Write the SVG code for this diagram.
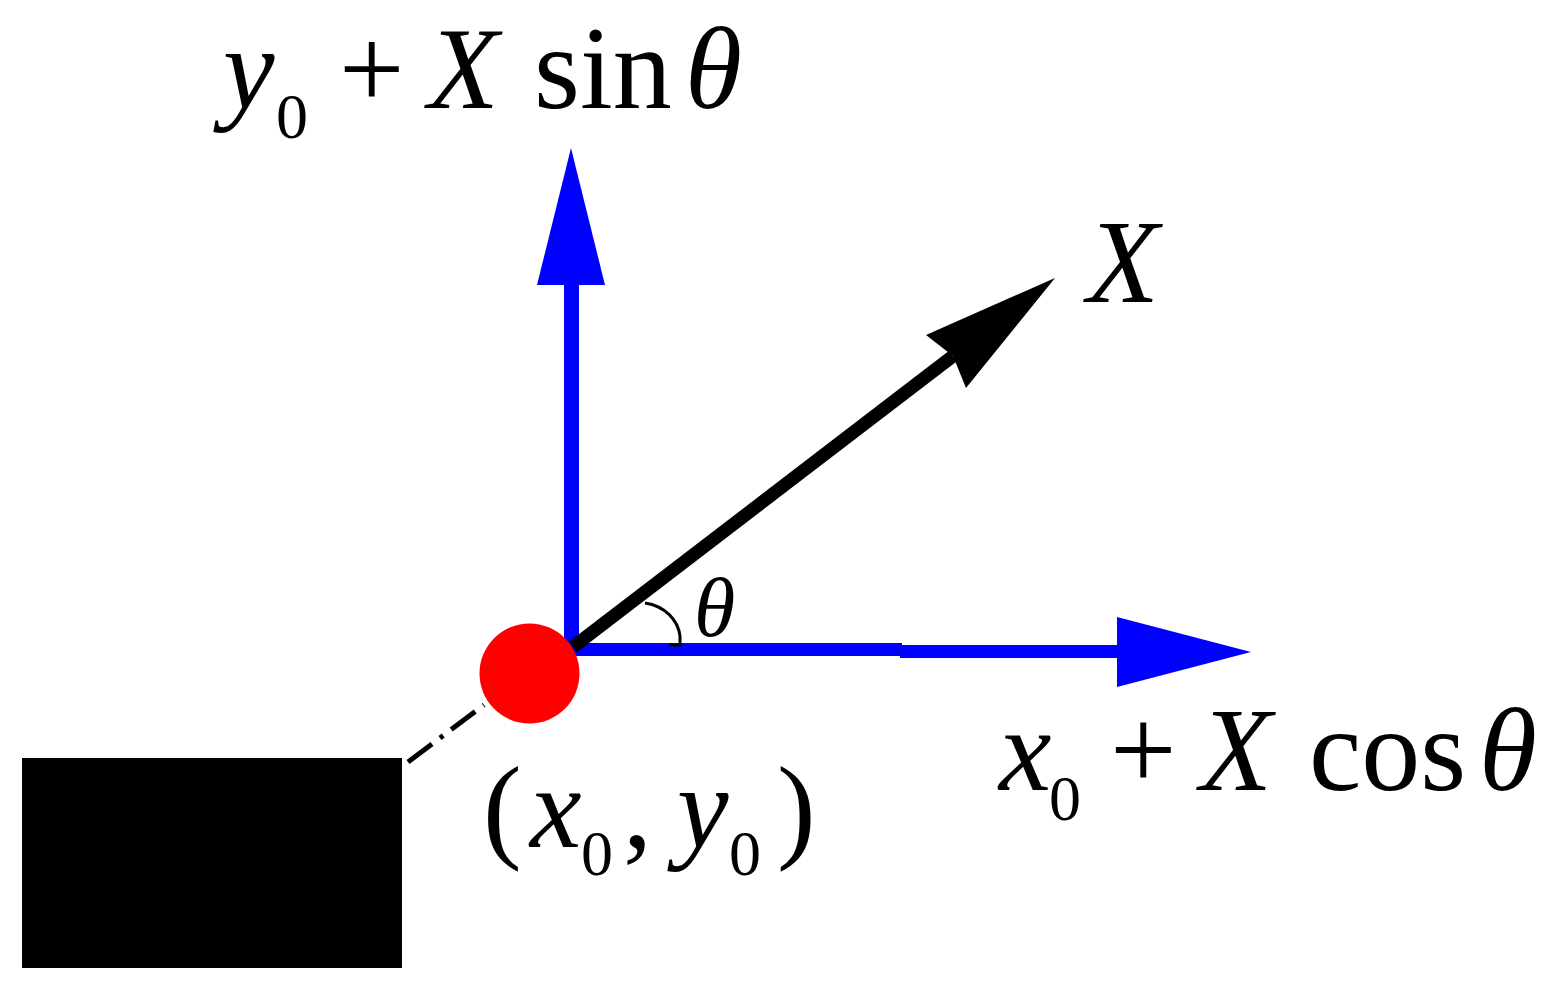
<svg xmlns="http://www.w3.org/2000/svg" width="1568" height="994" viewBox="0 0 1568 994">
<style>
.t{font-family:"Liberation Serif","Times New Roman",serif;fill:#000}
.i{font-style:italic}
.blue{fill:#0000ff}
</style>
<rect width="1568" height="994" fill="#fff"/>
<g id="block"><rect x="22" y="758" width="380" height="210" fill="#000"/></g>
<g id="connectors">
<line x1="408" y1="762" x2="484" y2="705" stroke="#000" stroke-width="5" stroke-dasharray="30 10 4 10"/>
<g id="axis-y">
<rect class="blue" x="564" y="284" width="15" height="368"/>
<polygon class="blue" points="571,148 605,285 537,285"/>
</g>
<g id="axis-x">
<rect class="blue" x="572" y="643" width="330" height="13"/>
<rect class="blue" x="900" y="645" width="218" height="13"/>
<polygon class="blue" points="1117,617 1251,652 1117,687"/>
</g>
</g>
<g id="origin"><circle cx="529.5" cy="673.5" r="50" fill="#ff0000"/></g>
<g id="vector-X">
<line x1="573" y1="647" x2="953" y2="356" stroke="#000" stroke-width="13"/>
<polygon points="1055,278 966,388 953,356 926,335" fill="#000"/>
</g>
<g id="angle">
<path d="M645,603 C665,606 678,620 680,636 L680,645 L669,645" fill="none" stroke="#000" stroke-width="3"/>
<text class="t i" x="694" y="636" font-size="84">θ</text>
</g>
<g id="label-y">
<text class="t i" x="223" y="108" font-size="116">y</text>
<text class="t" x="276" y="138" font-size="64">0</text>
<text class="t" x="339" y="108" font-size="116">+</text>
<text class="t i" x="428" y="108" font-size="116">X</text>
<text class="t" x="534" y="108" font-size="118">sin</text>
<text class="t i" x="685" y="108" font-size="116">θ</text>
</g>
<g id="label-x">
<text class="t i" x="999" y="790" font-size="118">x</text>
<text class="t" x="1049" y="820" font-size="64">0</text>
<text class="t" x="1110" y="790" font-size="118">+</text>
<text class="t i" x="1200" y="790" font-size="118">X</text>
<text class="t" x="1309" y="790" font-size="118">cos</text>
<text class="t i" x="1479" y="790" font-size="118">θ</text>
</g>
<g id="label-X"><text class="t i" x="1087" y="302" font-size="118">X</text></g>
<g id="label-origin">
<text class="t" x="483" y="847" font-size="116">(</text>
<text class="t i" x="530" y="847" font-size="116">x</text>
<text class="t" x="581" y="875" font-size="64">0</text>
<text class="t" x="623" y="847" font-size="116">,</text>
<text class="t i" x="677" y="847" font-size="116">y</text>
<text class="t" x="729" y="875" font-size="64">0</text>
<text class="t" x="777" y="847" font-size="116">)</text>
</g>
</svg>
